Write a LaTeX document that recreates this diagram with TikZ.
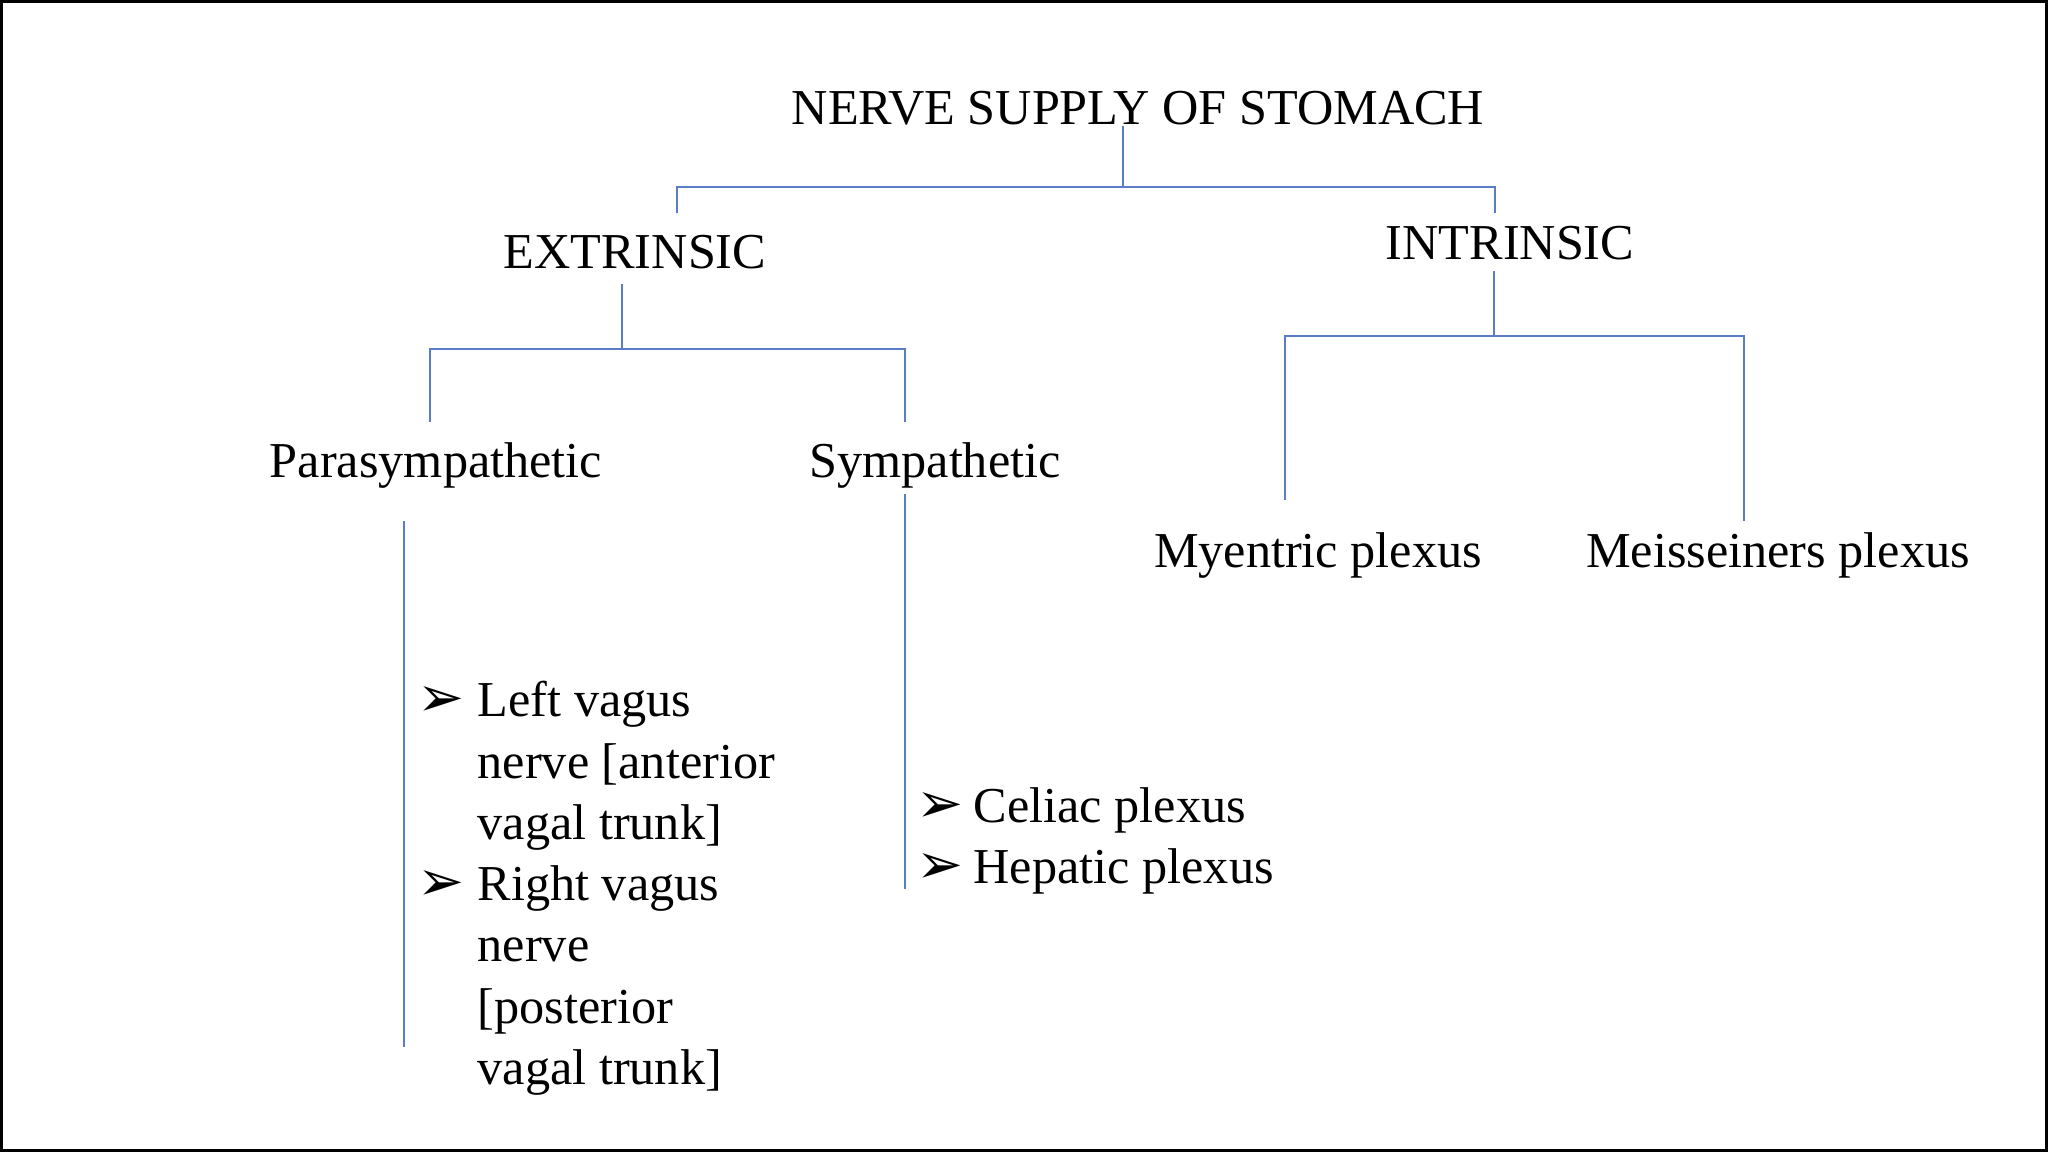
\documentclass[tikz,border=0pt]{standalone}
\usepackage{fontspec}
\setmainfont{Liberation Serif}
\newfontfamily\bulletfont{DejaVu Sans}
\usepackage{tikz}
\definecolor{linkblue}{RGB}{90,125,198}
\newcommand{\arrowbullet}{{\bulletfont\fontsize{16pt}{16pt}\selectfont ➢}}

\begin{document}
\begin{tikzpicture}[conn/.style={draw=linkblue,line width=0.013cm},
 lbl/.style={anchor=base,inner sep=0pt,font=\fontsize{14.3pt}{17.5pt}\selectfont},
 item/.style={anchor=base west,inner sep=0pt,align=left,font=\fontsize{14.3pt}{17.5pt}\selectfont}]
\useasboundingbox (0,0) rectangle (20.48,11.52);
\draw [line width=0.03cm] (0.015,0.015) rectangle (20.465,11.505);
 \node[lbl] (T0) at (11.38,10.27) {NERVE SUPPLY OF STOMACH};
 \node[lbl] (E1) at (6.35,8.83) {EXTRINSIC};
 \node[lbl] (I1) at (15.10,8.92) {INTRINSIC};
 \node[lbl] (P2) at (4.36,6.74) {Parasympathetic};
 \node[lbl] (S2) at (9.35,6.74) {Sympathetic};
 \node[lbl] (M2) at (13.18,5.84) {Myentric plexus};
 \node[lbl] (N2) at (17.78,5.84) {Meisseiners plexus};
 \node[item] (B1) at (4.17,4.35) {\arrowbullet};
 \node[item] (L1) at (4.77,3.12) {Left vagus\\nerve [anterior\\vagal trunk]};
 \node[item] (B2) at (4.17,2.51) {\arrowbullet};
 \node[item] (L2) at (4.77,0.67) {Right vagus\\nerve\\{}[posterior\\vagal trunk]};
 \node[item] (B3) at (9.16,3.29) {\arrowbullet};
 \node[item] (L3) at (9.73,3.29) {Celiac plexus};
 \node[item] (B4) at (9.16,2.68) {\arrowbullet};
 \node[item] (L4) at (9.73,2.68) {Hepatic plexus};
\coordinate (J0) at (11.23,9.65);
\coordinate (Ea) at (6.77,9.39);
\coordinate (Ia) at (14.95,9.39);
\coordinate (J1) at (6.22,8.03);
\coordinate (Pa) at (4.30,7.30);
\coordinate (Sa) at (9.05,7.30);
\coordinate (J2) at (14.94,8.16);
\coordinate (Ma) at (12.85,6.52);
\coordinate (Mb) at (17.44,6.31);
\coordinate (Lp) at (4.04,6.31);
\coordinate (Lq) at (4.04,1.05);
\coordinate (Ls) at (9.05,6.58);
\coordinate (Lt) at (9.05,2.63);
 \draw [conn] (T0.south -| J0) -- (J0);
 \draw [conn] (Ea) |- (J0) -| (Ia);
 \draw [conn,shorten <=0.14cm] (E1.south -| J1) -- (J1);
 \draw [conn] (Pa) |- (J1) -| (Sa);
 \draw [conn,shorten <=0.10cm] (I1.south -| J2) -- (J2);
 \draw [conn] (Ma) |- (J2) -| (Mb);
 \draw [conn] (Lp) -- (Lq);
 \draw [conn] (Ls) -- (Lt);
 \end{tikzpicture}
\end{document}
